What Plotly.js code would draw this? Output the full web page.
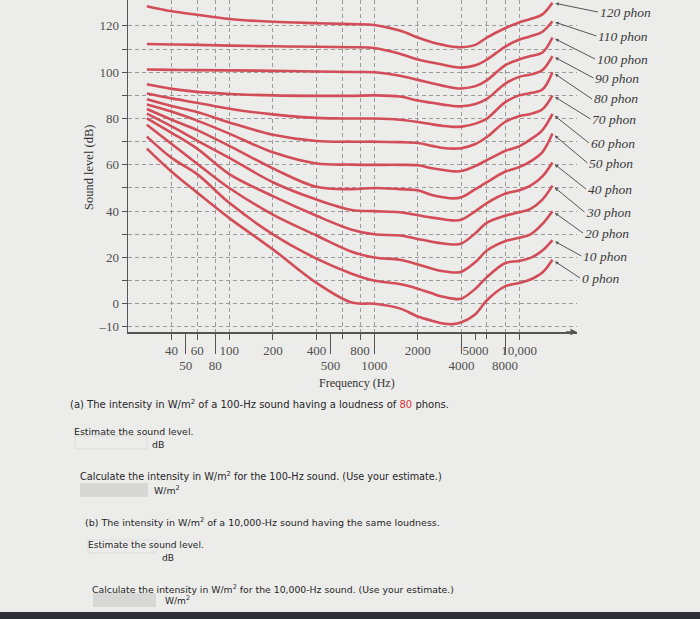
<!DOCTYPE html>
<html>
<head>
<meta charset="utf-8">
<script src="https://cdn.plot.ly/plotly-3.0.1.min.js"></script>
<style>
  html, body { margin: 0; padding: 0; background: #ececea; }
  #chart { width: 700px; height: 619px; }
</style>
</head>
<body>
<div id="chart"></div>
<script>
// ---------- data ----------
const FREQ = [27, 40, 60, 100, 200, 400, 700, 1000, 1500, 2000, 2500, 3000, 3500, 4000, 5000, 6000, 8000, 10000, 12000, 14500, 17000];

const PHON_0   = [67.0, 57.0, 48.0, 37.0, 23.5,  9.0,  0.5,  0.0, -2.0, -5.5, -7.3, -8.5, -8.8, -8.0, -4.5,  1.5,  7.5,  9.0, 10.5, 13.5, 19.0];
const PHON_10  = [72.2, 63.0, 56.0, 43.6, 30.0, 19.5, 13.0, 10.0,  8.5,  6.5,  4.5,  3.0,  2.2,  2.2,  6.5, 11.5, 17.5, 18.5, 19.8, 23.0, 27.5];
const PHON_20  = [77.3, 69.0, 60.5, 50.0, 38.5, 29.5, 22.5, 20.0, 19.0, 17.0, 15.2, 14.0, 13.5, 13.8, 18.0, 23.0, 27.0, 28.5, 30.0, 34.5, 40.0];
const PHON_30  = [80.1, 73.8, 67.0, 56.0, 46.5, 38.0, 32.0, 30.0, 29.5, 28.0, 26.8, 26.0, 25.6, 26.0, 30.5, 35.0, 38.0, 39.5, 41.0, 45.0, 51.0];
const PHON_40  = [82.1, 76.6, 70.5, 63.0, 52.5, 45.0, 40.5, 40.0, 39.5, 38.2, 37.2, 36.5, 36.0, 36.3, 40.0, 43.5, 47.5, 49.0, 51.0, 55.0, 61.0];
const PHON_50  = [84.1, 79.5, 75.0, 68.2, 58.5, 50.5, 49.5, 50.0, 49.5, 49.0, 47.0, 46.0, 45.5, 46.0, 49.5, 52.5, 57.0, 59.0, 61.5, 65.5, 73.5];
const PHON_60  = [86.1, 83.0, 79.1, 73.5, 65.4, 60.6, 60.1, 60.0, 60.0, 59.8, 58.5, 57.8, 57.2, 57.3, 59.5, 62.0, 66.0, 68.0, 71.0, 75.0, 82.0];
const PHON_70  = [88.3, 85.4, 82.8, 78.3, 73.0, 70.3, 70.0, 70.0, 69.8, 69.4, 68.2, 67.3, 67.0, 67.2, 69.0, 72.0, 78.5, 81.0, 82.0, 84.0, 90.0];
const PHON_80  = [90.8, 88.7, 86.8, 84.2, 81.8, 80.3, 80.0, 80.0, 79.5, 78.5, 77.5, 76.8, 76.4, 76.5, 77.8, 80.0, 87.0, 90.0, 91.0, 92.5, 100.0];
const PHON_90  = [94.8, 92.8, 91.5, 90.6, 90.0, 89.8, 89.8, 90.0, 89.5, 87.8, 86.8, 86.0, 85.4, 85.3, 86.3, 88.5, 95.0, 98.0, 99.0, 101.0, 107.0];
const PHON_100 = [101.2, 101.0, 100.9, 100.8, 100.6, 100.3, 100.1, 100.0, 98.5, 96.7, 95.2, 94.1, 93.3, 93.0, 94.0, 96.5, 103.0, 105.5, 107.0, 108.5, 115.0];
const PHON_110 = [112.2, 112.0, 111.8, 111.5, 111.2, 111.0, 110.8, 110.5, 108.0, 105.5, 104.2, 103.2, 102.4, 102.0, 103.0, 105.5, 111.0, 114.0, 115.5, 117.5, 122.0];
const PHON_120 = [128.5, 126.3, 124.8, 123.0, 121.8, 121.2, 120.8, 120.4, 118.0, 115.0, 113.0, 111.8, 111.0, 110.8, 111.8, 115.0, 119.0, 121.5, 123.0, 125.0, 130.0];

const PHON_LEVELS = [0, 10, 20, 30, 40, 50, 60, 70, 80, 90, 100, 110, 120];
const CURVES = [PHON_0, PHON_10, PHON_20, PHON_30, PHON_40, PHON_50, PHON_60,
                PHON_70, PHON_80, PHON_90, PHON_100, PHON_110, PHON_120];

const X_TICKS_ROW1 = [40, 60, 100, 200, 400, 800, 2000, 5000, 10000];
const X_TEXT_ROW1  = ['40', '60', '100', '200', '400', '800', '2000', '5000', '10,000'];
const X_TICKS_ROW2 = [50, 80, 500, 1000, 4000, 8000];
const X_TEXT_ROW2  = ['50', '80', '500', '1000', '4000', '8000'];
const X_GRID       = [40, 60, 80, 100, 200, 400, 600, 800, 1000, 2000, 4000, 6000, 8000, 10000];
const Y_TICKS      = [-10, 0, 20, 40, 60, 80, 100, 120];
const Y_TEXT       = ['\u201310', '0', '20', '40', '60', '80', '100', '120'];
const Y_MINOR      = [10, 30, 50, 70, 90, 110];

// ---------- layout helpers ----------
const W = 700, H = 619, ML = 128, MR = 123, MT = 0, MB = 287;
const PW = W - ML - MR, PH = H - MT - MB;
const YR = [-12.2, 131.2];
const XR = [Math.log10(20), 4.40];
const px = x => (x - ML) / PW;          // pixel -> paper x
const py = y => (H - MB - y) / PH;      // pixel -> paper y
const yPix = db => MT + (YR[1] - db) / (YR[1] - YR[0]) * PH;

const RED = '#d24d57';
const GRID = '#9b9b9b';
const AXC = '#555';
const SERIF = "'Liberation Serif', 'DejaVu Serif', serif";
const SANS = "'DejaVu Sans', Verdana, sans-serif";

// ---------- traces ----------
const traces = CURVES.map((vals, i) => ({
  type: 'scatter', mode: 'lines',
  x: FREQ, y: vals,
  line: { color: RED, width: 2.6, shape: 'spline', smoothing: 1 },
  hoverinfo: 'skip', showlegend: false, name: PHON_LEVELS[i] + ' phon'
}));
traces.push({ type: 'scatter', x: [], y: [], xaxis: 'x2', yaxis: 'y', showlegend: false, hoverinfo: 'skip' });
traces.push({ type: 'scatter', x: [], y: [], xaxis: 'x3', yaxis: 'y', showlegend: false, hoverinfo: 'skip' });

// ---------- annotations ----------
const LABEL_TEXT_Y = { 120: 12, 110: 36, 100: 59, 90: 78, 80: 99, 70: 119, 60: 143, 50: 163, 40: 189, 30: 212, 20: 233, 10: 256, 0: 278 };
const annotations = [];
CURVES.forEach((vals, i) => {
  const lvl = PHON_LEVELS[i];
  const endF = FREQ[FREQ.length - 1], endDb = vals[vals.length - 1];
  const endPx = ML + (Math.log10(endF) - XR[0]) / (XR[1] - XR[0]) * PW;
  const textLeft = 582 + 1.5 * (lvl / 10);
  annotations.push({
    x: Math.log10(endF), y: endDb, xref: 'x', yref: 'y',
    text: '<i>' + lvl + ' phon</i>',
    showarrow: true, arrowhead: 2, arrowsize: 0.7, arrowwidth: 1, arrowcolor: '#555',
    standoff: 3,
    ax: textLeft - endPx - 2, ay: LABEL_TEXT_Y[lvl] - yPix(endDb),
    xanchor: 'left', yanchor: 'middle',
    font: { family: SERIF, size: 13.5, color: '#3a3a3a' }
  });
});
// axis arrow
annotations.push({ x: 1, y: 0, xref: 'paper', yref: 'paper', text: ' ', showarrow: true,
  arrowhead: 2, arrowsize: 1, arrowwidth: 1.3, arrowcolor: '#555', ax: -14, ay: 0 });
// axis titles
annotations.push({ x: px(89), y: py(168), xref: 'paper', yref: 'paper', text: 'Sound level (dB)',
  xanchor: 'center', yanchor: 'middle',
  textangle: -90, showarrow: false, font: { family: SERIF, size: 12.5, color: '#333' } });
annotations.push({ x: px(357), y: py(383), xref: 'paper', yref: 'paper', text: 'Frequency (Hz)',
  xanchor: 'center', yanchor: 'middle',
  showarrow: false, font: { family: SERIF, size: 12, color: '#333' } });

// question text
const TXT = '#262626';
function addText(left, cy, text, size) {
  annotations.push({ x: px(left), y: py(cy), xref: 'paper', yref: 'paper', text: text,
    xanchor: 'left', yanchor: 'middle', showarrow: false,
    font: { family: SANS, size: size, color: TXT } });
}
addText(68, 404, '(a) The intensity in W/m<sup>2</sup> of a 100-Hz sound having a loudness of <span style="color:#d8343c">80</span> phons.', 10);
addText(72, 431, 'Estimate the sound level.', 9.4);
addText(150, 444, 'dB', 9.4);
addText(78, 476, 'Calculate the intensity in W/m<sup>2</sup> for the 100-Hz sound. (Use your estimate.)', 9.7);
addText(152, 490, 'W/m<sup>2</sup>', 9.4);
addText(83, 522, '(b) The intensity in W/m<sup>2</sup> of a 10,000-Hz sound having the same loudness.', 9.5);
addText(86, 545, 'Estimate the sound level.', 9.1);
addText(160, 558, 'dB', 9.1);
addText(90, 589, 'Calculate the intensity in W/m<sup>2</sup> for the 10,000-Hz sound. (Use your estimate.)', 9.3);
addText(163, 600, 'W/m<sup>2</sup>', 9.1);

// ---------- shapes (answer fields, bottom band) ----------
const rectP = (x0, y0, x1, y1, fill, lineColor) => ({
  type: 'rect', xref: 'paper', yref: 'paper', x0: px(x0), x1: px(x1), y0: py(y1), y1: py(y0),
  fillcolor: fill, line: { width: lineColor ? 1 : 0, color: lineColor || fill }, layer: 'above'
});
const shapes = [
  rectP(75, 436, 147, 449, 'rgba(0,0,0,0)', '#dcdcda'),
  rectP(80, 483, 148, 497, '#d7d7d5'),
  rectP(88, 540, 156, 553, 'rgba(0,0,0,0)', '#dcdcda'),
  rectP(93, 593, 156, 607, '#d7d7d5'),
  rectP(0, 612, 700, 625, '#2c2e33')
];

// ---------- layout ----------
const xTickFont = { family: SERIF, size: 13, color: '#505050' };
const yTickFont = { family: SERIF, size: 13, color: '#505050' };
const layout = {
  width: W, height: H,
  margin: { l: ML, r: MR, t: MT, b: MB, pad: 0 },
  paper_bgcolor: '#ececea', plot_bgcolor: '#ececea',
  showlegend: false,
  xaxis: {
    type: 'log', range: XR, autorange: false,
    tickmode: 'array', tickvals: X_TICKS_ROW1, ticktext: X_TEXT_ROW1,
    ticks: 'outside', ticklen: 6, tickwidth: 1, tickcolor: AXC,
    showgrid: false, zeroline: false,
    showline: true, linecolor: AXC, linewidth: 1.5,
    tickfont: xTickFont
  },
  xaxis2: {
    type: 'log', range: XR, autorange: false, overlaying: 'x', anchor: 'y', side: 'bottom',
    tickmode: 'array', tickvals: X_TICKS_ROW2, ticktext: X_TEXT_ROW2,
    ticks: 'outside', ticklen: 21, tickwidth: 1, tickcolor: AXC,
    showgrid: false, zeroline: false, showline: false,
    tickfont: xTickFont
  },
  xaxis3: {
    type: 'log', range: XR, autorange: false, overlaying: 'x', anchor: 'y', side: 'bottom',
    tickmode: 'array', tickvals: X_GRID, showticklabels: false,
    ticks: 'outside', ticklen: 6, tickwidth: 1, tickcolor: AXC,
    showgrid: true, gridcolor: GRID, gridwidth: 1, griddash: '4px,3px',
    zeroline: false, showline: false
  },
  yaxis: {
    range: YR, autorange: false,
    tickmode: 'array', tickvals: Y_TICKS, ticktext: Y_TEXT,
    ticks: 'outside', ticklen: 5, tickwidth: 1, tickcolor: AXC,
    showgrid: true, gridcolor: GRID, gridwidth: 1, griddash: '4px,3px',
    minor: { tickmode: 'array', tickvals: Y_MINOR, ticks: 'outside', ticklen: 5, tickcolor: AXC,
             showgrid: true, gridcolor: GRID, gridwidth: 1, griddash: '4px,3px' },
    zeroline: false, showline: true, linecolor: AXC, linewidth: 1.5,
    tickfont: yTickFont
  },
  annotations: annotations,
  shapes: shapes
};

Plotly.newPlot('chart', traces, layout, { staticPlot: true, displayModeBar: false });
</script>
</body>
</html>
